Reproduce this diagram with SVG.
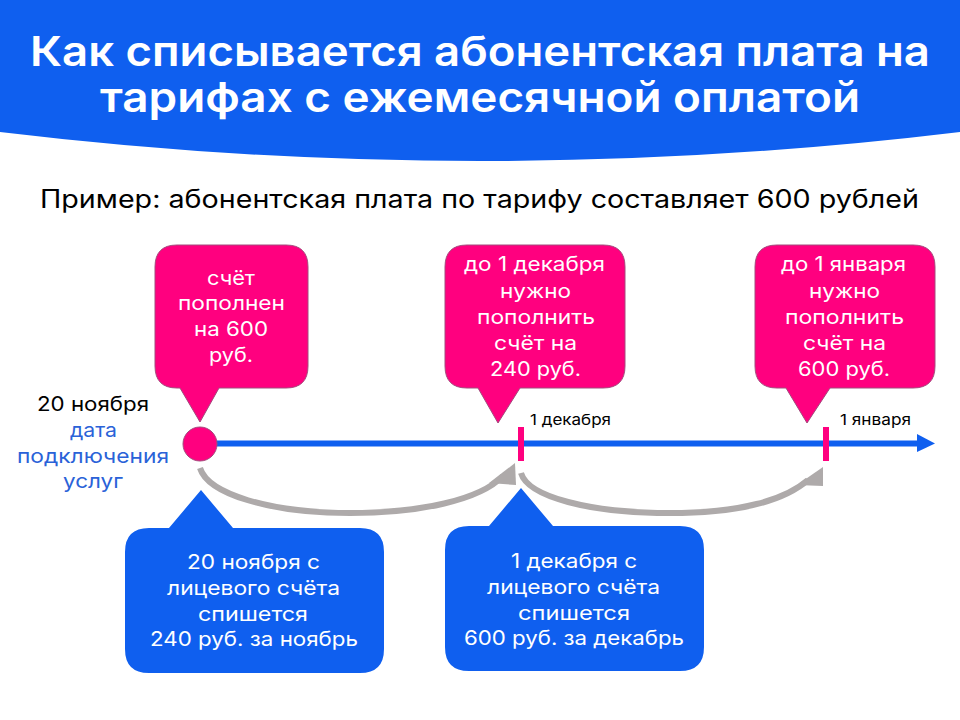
<svg xmlns="http://www.w3.org/2000/svg" width="960" height="720" viewBox="0 0 960 720">
<style>
text{font-family:"Inter","DejaVu Sans",sans-serif;text-anchor:middle}
.t{font-size:41px;font-weight:600;fill:#fff}
.s{font-size:25px;fill:#000}
.b{font-size:20px;fill:#fff}
.d{font-size:15px;fill:#000}
.l{font-size:20px}
.p{fill:#ff007f;stroke:#a34a7c;stroke-width:1}
.u{fill:#0f5fef}
.c{fill:none;stroke:#aeaaaa;stroke-width:6}
.h{fill:#aeaaaa}
</style>
<g id="header">
<path class="u" d="M0 0H960V132Q720 161 480 161Q240 161 0 132Z"/>
<text class="t" x="480" y="66" textLength="900" lengthAdjust="spacingAndGlyphs">Как списывается абонентская плата на</text>
<text class="t" x="480" y="112" textLength="760" lengthAdjust="spacingAndGlyphs">тарифах с ежемесячной оплатой</text>
</g>
<text class="s" x="479.500" y="208" textLength="879" lengthAdjust="spacingAndGlyphs">Пример: абонентская плата по тарифу составляет 600 рублей</text>
<g id="connectors">
<path d="M216 443.500H918" stroke="#0f5fef" stroke-width="6" fill="none"/>
<path class="u" d="M917 434L935 443.500L917 452Z"/>
<path class="c" d="M200 468C208 494 270 513 350 513C420 513 480 500 503 476"/>
<path class="h" d="M515 463L516 485L489 483Z"/>
<path class="c" d="M521 473C528 497 590 513 670 513C740 513 785 500 808 480"/>
<path class="h" d="M823 467L823 486L797 485Z"/>
</g>
<g id="node-start"><circle class="p" cx="200" cy="444" r="17"/></g>
<g id="tick-dec"><rect x="518" y="427" width="6" height="34" fill="#ff007f"/></g>
<g id="tick-jan"><rect x="823" y="427" width="6" height="34" fill="#ff007f"/></g>
<g id="label-start">
<text class="l" x="93" y="411" fill="#000" textLength="112" lengthAdjust="spacingAndGlyphs">20 ноября</text>
<text class="l" x="93.500" y="437" fill="#2a62d8" textLength="47" lengthAdjust="spacingAndGlyphs">дата</text>
<text class="l" x="93" y="463" fill="#2a62d8" textLength="152" lengthAdjust="spacingAndGlyphs">подключения</text>
<text class="l" x="93" y="488" fill="#2a62d8" textLength="60" lengthAdjust="spacingAndGlyphs">услуг</text>
</g>
<g id="label-dec"><text class="d" x="570.500" y="425" textLength="81" lengthAdjust="spacingAndGlyphs">1 декабря</text></g>
<g id="label-jan"><text class="d" x="875.500" y="425" textLength="71" lengthAdjust="spacingAndGlyphs">1 января</text></g>
<g id="callout-paid">
<path class="p" d="M177 245H286Q308 245 308 267V366Q308 388 286 388H219L200 422L180 388H177Q155 388 155 366V267Q155 245 177 245Z"/>
<text class="b" x="231" y="285" textLength="48" lengthAdjust="spacingAndGlyphs">счёт</text>
<text class="b" x="231.500" y="310" textLength="107" lengthAdjust="spacingAndGlyphs">пополнен</text>
<text class="b" x="231" y="336" textLength="74" lengthAdjust="spacingAndGlyphs">на 600</text>
<text class="b" x="231" y="362" textLength="44" lengthAdjust="spacingAndGlyphs">руб.</text>
</g>
<g id="callout-dec">
<path class="p" d="M467 245H603Q625 245 625 267V366Q625 388 603 388H520L498 423L478 388H467Q445 388 445 366V267Q445 245 467 245Z"/>
<text class="b" x="534.500" y="271" textLength="141" lengthAdjust="spacingAndGlyphs">до 1 декабря</text>
<text class="b" x="535.500" y="298" textLength="71" lengthAdjust="spacingAndGlyphs">нужно</text>
<text class="b" x="536" y="324" textLength="118" lengthAdjust="spacingAndGlyphs">пополнить</text>
<text class="b" x="535.500" y="350" textLength="83" lengthAdjust="spacingAndGlyphs">счёт на</text>
<text class="b" x="535.500" y="376" textLength="91" lengthAdjust="spacingAndGlyphs">240 руб.</text>
</g>
<g id="callout-jan">
<path class="p" d="M777 245H913Q935 245 935 267V366Q935 388 913 388H830L807 423L786 388H777Q755 388 755 366V267Q755 245 777 245Z"/>
<text class="b" x="843.500" y="271" textLength="125" lengthAdjust="spacingAndGlyphs">до 1 января</text>
<text class="b" x="844.500" y="298" textLength="71" lengthAdjust="spacingAndGlyphs">нужно</text>
<text class="b" x="844.500" y="324" textLength="119" lengthAdjust="spacingAndGlyphs">пополнить</text>
<text class="b" x="844.500" y="350" textLength="83" lengthAdjust="spacingAndGlyphs">счёт на</text>
<text class="b" x="844" y="376" textLength="92" lengthAdjust="spacingAndGlyphs">600 руб.</text>
</g>
<g id="callout-nov">
<path class="u" d="M149 528H169L201 490L233 528H360Q384 528 384 552V649Q384 673 360 673H149Q125 673 125 649V552Q125 528 149 528Z"/>
<text class="b" x="253.500" y="569" textLength="133" lengthAdjust="spacingAndGlyphs">20 ноября с</text>
<text class="b" x="253.500" y="595" textLength="173" lengthAdjust="spacingAndGlyphs">лицевого счёта</text>
<text class="b" x="253" y="621" textLength="110" lengthAdjust="spacingAndGlyphs">спишется</text>
<text class="b" x="254" y="646" textLength="208" lengthAdjust="spacingAndGlyphs">240 руб. за ноябрь</text>
</g>
<g id="callout-dec-charge">
<path class="u" d="M469 526H489L521 488L553 526H680Q704 526 704 550V647Q704 671 680 671H469Q445 671 445 647V550Q445 526 469 526Z"/>
<text class="b" x="574" y="568" textLength="126" lengthAdjust="spacingAndGlyphs">1 декабря с</text>
<text class="b" x="573.500" y="594" textLength="173" lengthAdjust="spacingAndGlyphs">лицевого счёта</text>
<text class="b" x="574" y="620" textLength="112" lengthAdjust="spacingAndGlyphs">спишется</text>
<text class="b" x="574" y="645" textLength="220" lengthAdjust="spacingAndGlyphs">600 руб. за декабрь</text>
</g>
</svg>
